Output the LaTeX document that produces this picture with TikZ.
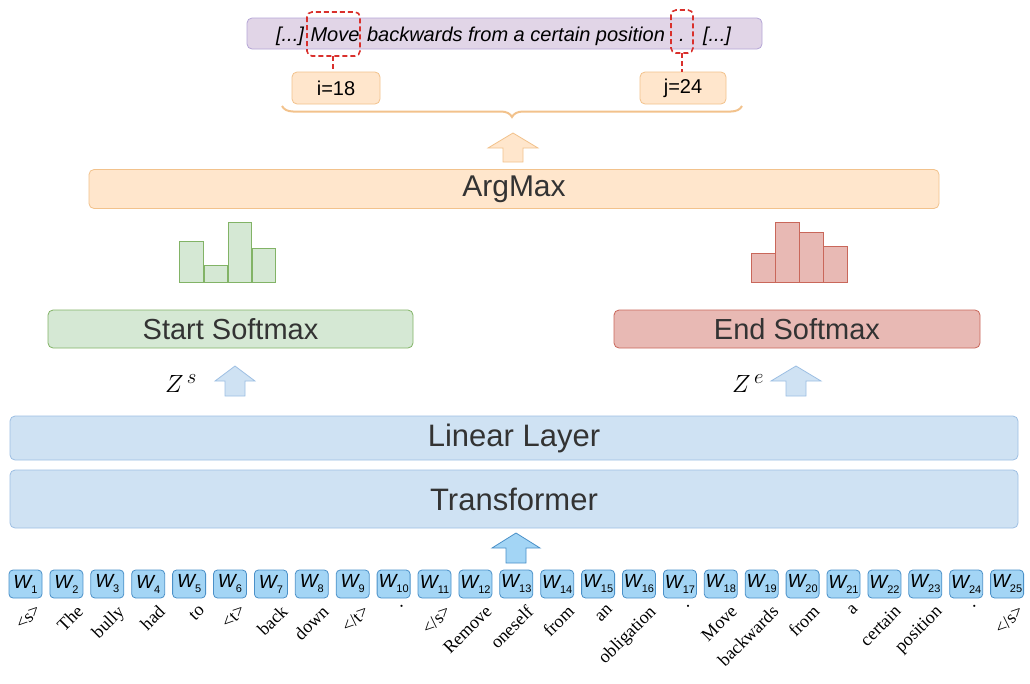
\documentclass[tikz,border=0pt]{standalone}
\usepackage{fontspec}
\setmainfont{Liberation Sans}
\newfontfamily\seriff{Liberation Serif}
\usetikzlibrary{decorations.pathreplacing}
\definecolor{bfill}{HTML}{CFE2F3}\definecolor{bdraw}{HTML}{9DBFE3}
\definecolor{wfill}{HTML}{A3D5F5}\definecolor{wdraw}{HTML}{4A90C8}
\definecolor{gfill}{HTML}{D5E8D4}\definecolor{gdraw}{HTML}{82B366}
\definecolor{rfill}{HTML}{E8B9B4}\definecolor{rdraw}{HTML}{C9675A}
\definecolor{ofill}{HTML}{FFE6CC}\definecolor{odraw}{HTML}{F2C28C}
\definecolor{pfill}{HTML}{E1D5E7}\definecolor{pdraw}{HTML}{B4A5D6}
\definecolor{tx}{HTML}{333333}
\definecolor{dred}{HTML}{D9302C}
\tikzset{
 bar/.style={rounded corners=5pt,line width=0.8pt,text=tx},
 wbox/.style={draw=wdraw,fill=wfill,rounded corners=4pt,line width=0.8pt,minimum width=33pt,minimum height=28pt,inner sep=0pt},
 lbl/.style={font=\seriff\fontsize{18}{18}\selectfont,rotate=45,anchor=north east,inner sep=1pt},
 stxt/.style={font=\itshape\fontsize{20}{20}\selectfont,inner sep=0pt,anchor=base},
 reddash/.style={dred,dashed,line width=1.6pt,dash pattern=on 5pt off 3pt},
 uparrow/.style={line width=0.8pt},
}
\begin{document}
\begin{tikzpicture}[x=1pt,y=-1pt]
\useasboundingbox (0,0) rectangle (1030,683);
% top sentence
\node[bar,draw=pdraw,fill=pfill,minimum width=515pt,minimum height=31pt,inner sep=0pt] (sent) at (504.5,33.5) {};
\node[stxt] (s1) at (290,41) {[...]};
\node[stxt] (s2) at (335,41) {Move};
\node[stxt] (s3) at (516,41) {backwards from a certain position};
\node[stxt] (s4) at (682,41) {.};
\node[stxt] (s5) at (717,41) {[...]};
\draw[reddash,rounded corners=5pt] (307,12) rectangle (360,56);
\draw[reddash,rounded corners=5pt] (671,10) rectangle (693,53);
\node[bar,draw=odraw,fill=ofill,minimum width=88pt,minimum height=32pt,inner sep=0pt,font=\fontsize{20}{20}\selectfont,text=black] (i) at (336,88) {i=18};
\node[bar,draw=odraw,fill=ofill,minimum width=86pt,minimum height=32pt,inner sep=0pt,font=\fontsize{20}{20}\selectfont,text=black] (j) at (683,88) {j=24};
\coordinate (mi) at (333,56); \coordinate (mj) at (682,53);
\draw[reddash] (mi) -- (i.north-|mi);
\draw[reddash] (mj) -- (j.north-|mj);
\draw[odraw,line width=2pt,decorate,decoration={brace,mirror,amplitude=11pt,aspect=0.5}] (282,106) -- (742,106);
\draw[uparrow,draw=odraw,fill=ofill] (503,162) -- (523,162) -- (523,148) -- (538,148) -- (513,133) -- (488,148) -- (503,148) -- cycle;
% argmax
\node[bar,draw=odraw,fill=ofill,minimum width=850pt,minimum height=39pt,inner sep=0pt,font=\fontsize{30}{30}\selectfont] (arg) at (514,189) {ArgMax};
% histograms
\foreach \a/\b/\t in {179/203/241,204/227/265,228/251/222,252/275/248}
  \draw[gdraw,fill=gfill,line width=0.8pt] (\a,282) rectangle (\b,\t);
\foreach \a/\b/\t in {751/775/253,775/799/222,799/823/232,823/847/246}
  \draw[rdraw,fill=rfill,line width=0.8pt] (\a,282) rectangle (\b,\t);
% softmax
\node[bar,draw=gdraw,fill=gfill,minimum width=365pt,minimum height=38pt,inner sep=0pt,font=\fontsize{29}{29}\selectfont] (ss) at (230.5,329) {Start Softmax};
\node[bar,draw=rdraw,fill=rfill,minimum width=366pt,minimum height=38pt,inner sep=0pt,font=\fontsize{29}{29}\selectfont] (es) at (797,329) {End Softmax};
\node[font=\seriff\itshape\fontsize{28}{28}\selectfont] (zs) at (181,384) {$Z^{\,s}$};
\node[font=\seriff\itshape\fontsize{28}{28}\selectfont] (ze) at (748,384) {$Z^{\,e}$};
\draw[uparrow,draw=bdraw,fill=bfill] (225,396) -- (245,396) -- (245,381) -- (255,381) -- (235,366) -- (215,381) -- (225,381) -- cycle;
\draw[uparrow,draw=bdraw,fill=bfill] (786,396) -- (806,396) -- (806,381) -- (821,381) -- (796,366) -- (771,381) -- (786,381) -- cycle;
% layers
\node[bar,draw=bdraw,fill=bfill,minimum width=1008pt,minimum height=44pt,inner sep=0pt,font=\fontsize{31}{31}\selectfont] (lin) at (514,438) {Linear Layer};
\node[bar,draw=bdraw,fill=bfill,minimum width=1008pt,minimum height=58pt,inner sep=0pt,font=\fontsize{31}{31}\selectfont] (tr) at (514,499) {Transformer};
\draw[uparrow,draw=wdraw,fill=wfill] (506,563) -- (526,563) -- (526,548) -- (540,548) -- (516,533) -- (492,548) -- (506,548) -- cycle;
% words
\foreach \n/\w [count=\k from 0] in {1/{<s>},2/The,3/bully,4/had,5/to,6/{<t>},7/back,8/down,9/{</t>},10/.,11/{</s>},12/Remove,13/oneself,14/from,15/an,16/obligation,17/.,18/Move,19/backwards,20/from,21/a,22/certain,23/position,24/.,25/{</s>}}{
  \pgfmathsetmacro\xx{25.5+\k*40.9}
  \node[wbox] (w\n) at (\xx,584) {\fontsize{19}{19}\selectfont\itshape W\raisebox{-5pt}{\upshape\fontsize{11}{11}\selectfont\n}};
  \node[lbl] (l\n) at ([xshift=9pt,yshift=-4pt]w\n.south) {\w};
}
\end{tikzpicture}
\end{document}
